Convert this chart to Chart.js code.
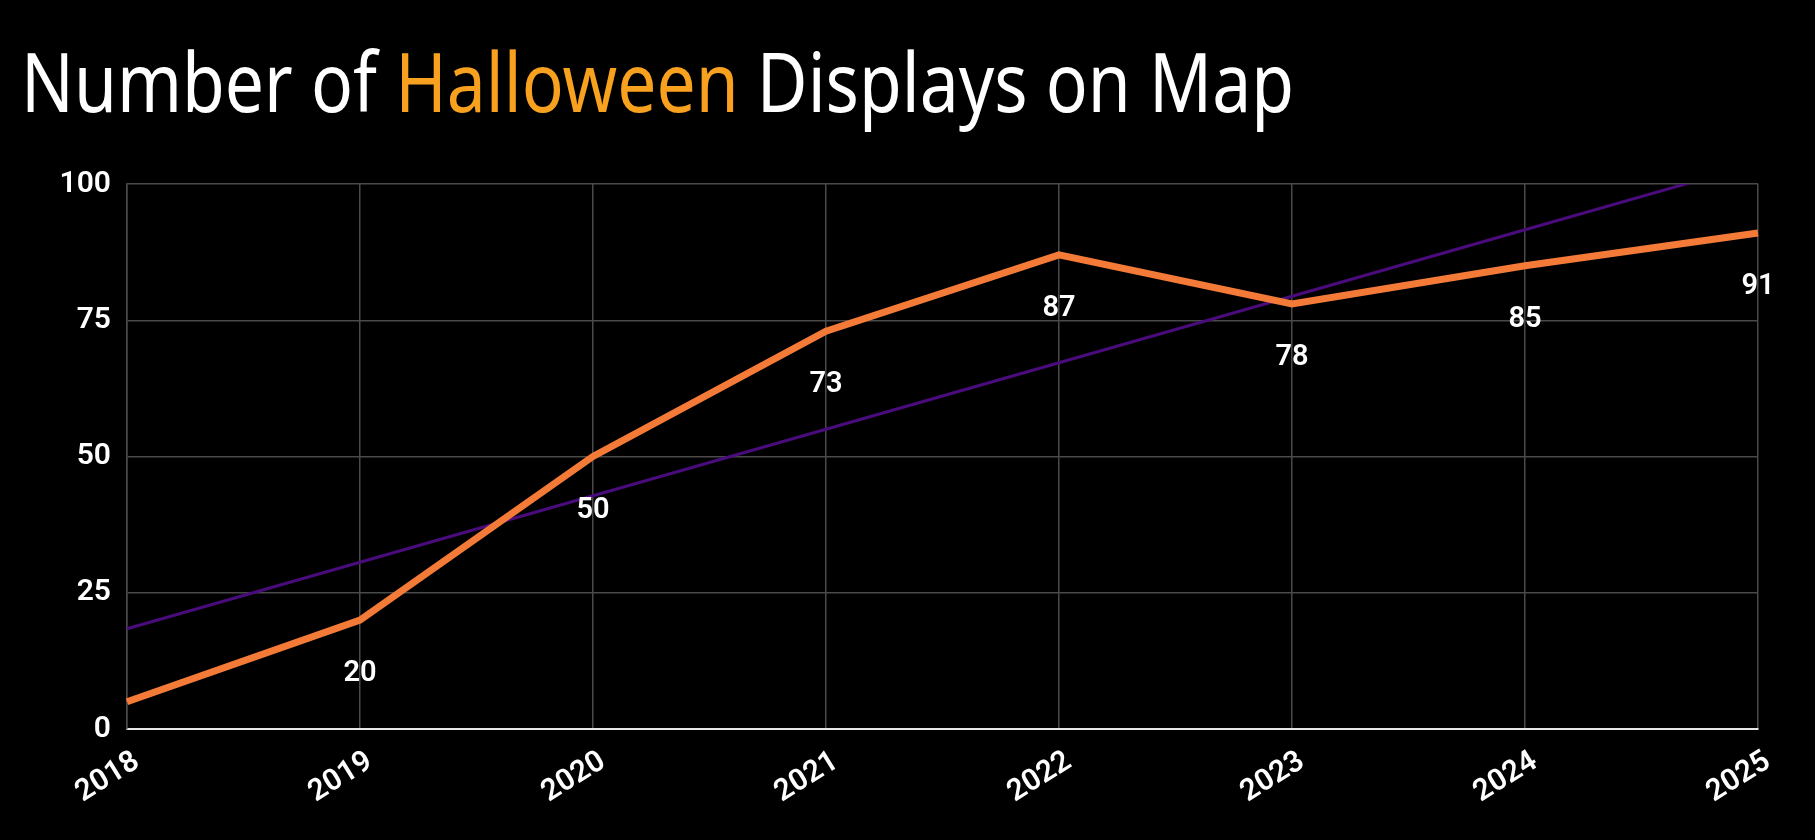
<!DOCTYPE html>
<html>
<head>
<meta charset="utf-8">
<script src="https://cdn.jsdelivr.net/npm/chart.js@4.4.0/dist/chart.umd.min.js"></script>
<style>
  html, body { margin: 0; padding: 0; background: #000; }
  #wrap { width: 1815px; height: 840px; position: relative; }
</style>
</head>
<body>
<div id="wrap"><canvas id="c" width="1815" height="840"></canvas></div>
<script>
const years = ['2018', '2019', '2020', '2021', '2022', '2023', '2024', '2025'];
const displays = [5, 20, 50, 73, 87, 78, 85, 91];
const trend = [18.4, 30.6, 42.8, 55.0, 67.2, 79.4, 91.6, 103.8];
const yTicks = [0, 25, 50, 75, 100];
const titleParts = [
  { text: 'Number of ', color: '#ffffff' },
  { text: 'Halloween', color: '#F7A11F' },
  { text: ' Displays on Map', color: '#ffffff' }
];

const titlePlugin = {
  id: 'titlePlugin',
  beforeDraw(chart) {
    const ctx = chart.ctx;
    ctx.save();
    ctx.fillStyle = '#000';
    ctx.fillRect(0, 0, chart.width, chart.height);
    ctx.font = '400 82px "Noto Sans"';
    ctx.textBaseline = 'alphabetic';
    const full = titleParts.map(p => p.text).join('');
    const w = ctx.measureText(full).width;
    const targetW = 1273;
    ctx.translate(21, 112);
    ctx.scale(targetW / w, 1);
    let x = 0;
    for (const p of titleParts) {
      ctx.fillStyle = p.color;
      ctx.fillText(p.text, x, 0);
      x += ctx.measureText(p.text).width;
    }
    ctx.restore();
  }
};

const valueLabels = {
  id: 'valueLabels',
  afterDatasetsDraw(chart) {
    const ctx = chart.ctx;
    const area = chart.chartArea;
    const meta = chart.getDatasetMeta(1);
    ctx.save();
    ctx.beginPath();
    ctx.rect(area.left - 30, area.top, area.right - area.left + 60, area.bottom - area.top);
    ctx.clip();
    ctx.font = '600 29px Roboto';
    ctx.fillStyle = '#ffffff';
    ctx.textAlign = 'center';
    ctx.textBaseline = 'middle';
    meta.data.forEach((pt, i) => {
      const y = pt.y + 54;
      if (y + 12 < area.bottom) ctx.fillText(String(displays[i]), pt.x, y);
    });
    ctx.restore();
  }
};

new Chart(document.getElementById('c'), {
  type: 'line',
  data: {
    labels: years,
    datasets: [
      {
        label: 'Trend',
        data: trend,
        borderColor: '#4A0C7C',
        borderWidth: 3,
        pointRadius: 0,
        tension: 0,
        order: 2
      },
      {
        label: 'Displays',
        data: displays,
        borderColor: '#F47A38',
        borderWidth: 7,
        pointRadius: 0,
        tension: 0,
        borderJoinStyle: 'miter',
        order: 1
      }
    ]
  },
  options: {
    responsive: false,
    animation: false,
    layout: { padding: { top: 184, left: 50, right: 57, bottom: 0 } },
    plugins: {
      legend: { display: false },
      tooltip: { enabled: false },
      title: { display: false }
    },
    scales: {
      x: {
        offset: false,
        grid: { color: '#4a4a4a', lineWidth: 1.5, drawTicks: false },
        border: { display: true, color: '#e6e6e6', width: 2 },
        ticks: {
          color: '#ffffff',
          font: { family: 'Roboto', size: 30, weight: '600' },
          minRotation: 32,
          maxRotation: 32,
          padding: 15,
          labelOffset: 10,
          autoSkip: false
        },
        afterFit(s) { s.height = 840 - 729; }
      },
      y: {
        min: 0,
        max: 100,
        afterBuildTicks(s) { s.ticks = yTicks.map(v => ({ value: v })); },
        grid: { color: '#4a4a4a', lineWidth: 1.5, drawTicks: false },
        border: { display: true, color: '#4a4a4a', width: 1.5 },
        ticks: {
          color: '#ffffff',
          font: { family: 'Roboto', size: 30, weight: '600' },
          padding: 16
        },
        afterFit(s) { s.width = 127 - 50; }
      }
    }
  },
  plugins: [titlePlugin, valueLabels]
});
</script>
</body>
</html>
